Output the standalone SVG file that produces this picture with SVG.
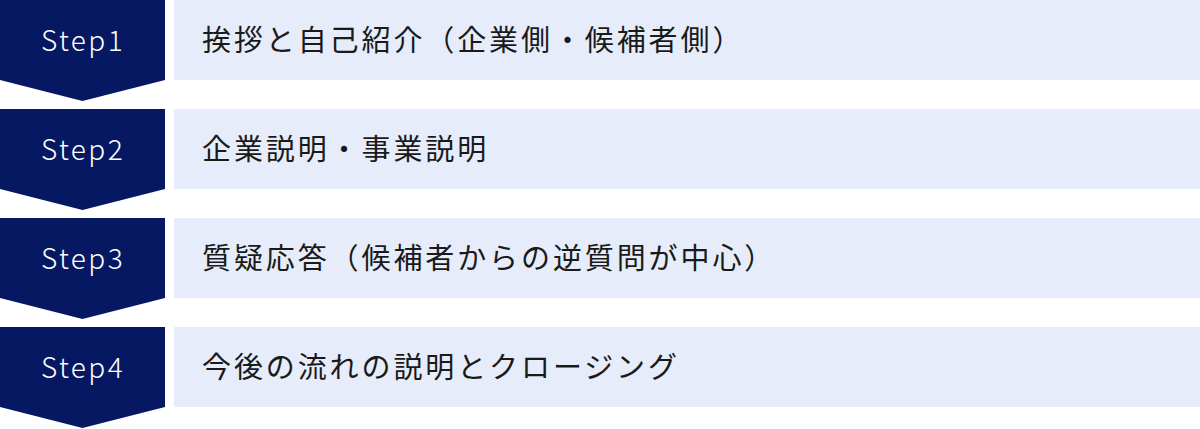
<svg xmlns="http://www.w3.org/2000/svg" width="1200" height="429" viewBox="0 0 1200 429">
<style>
.step{fill:#061862}
.box{fill:#e6ecf9}
.lbl{font-family:"Noto Sans CJK JP","Noto Sans",sans-serif;font-size:28px;font-weight:300;fill:#ffffff;text-anchor:middle;letter-spacing:2.4px}
.txt{font-family:"Noto Sans CJK JP",sans-serif;font-size:29px;fill:#1a1a1a;letter-spacing:2.9px}
</style>
<rect width="1200" height="429" fill="#ffffff"/>
<g id="step1">
<polygon class="step" points="0,0 165,0 165,80 82.5,101 0,80"/>
<rect class="box" x="174" y="0" width="1026" height="80"/>
<text class="lbl" x="83" y="51">Step1</text>
<text class="txt" x="202" y="51">挨拶と自己紹介（企業側・候補者側）</text>
</g>
<g id="step2">
<polygon class="step" points="0,109 165,109 165,189 82.5,210 0,189"/>
<rect class="box" x="174" y="109" width="1026" height="80"/>
<text class="lbl" x="83" y="160">Step2</text>
<text class="txt" x="202" y="160">企業説明・事業説明</text>
</g>
<g id="step3">
<polygon class="step" points="0,218 165,218 165,298 82.5,319 0,298"/>
<rect class="box" x="174" y="218" width="1026" height="80"/>
<text class="lbl" x="83" y="269">Step3</text>
<text class="txt" x="202" y="269">質疑応答（候補者からの逆質問が中心）</text>
</g>
<g id="step4">
<polygon class="step" points="0,327 165,327 165,407 82.5,428 0,407"/>
<rect class="box" x="174" y="327" width="1026" height="80"/>
<text class="lbl" x="83" y="378">Step4</text>
<text class="txt" x="202" y="378">今後の流れの説明とクロージング</text>
</g>
<g id="connectors"/>
</svg>
